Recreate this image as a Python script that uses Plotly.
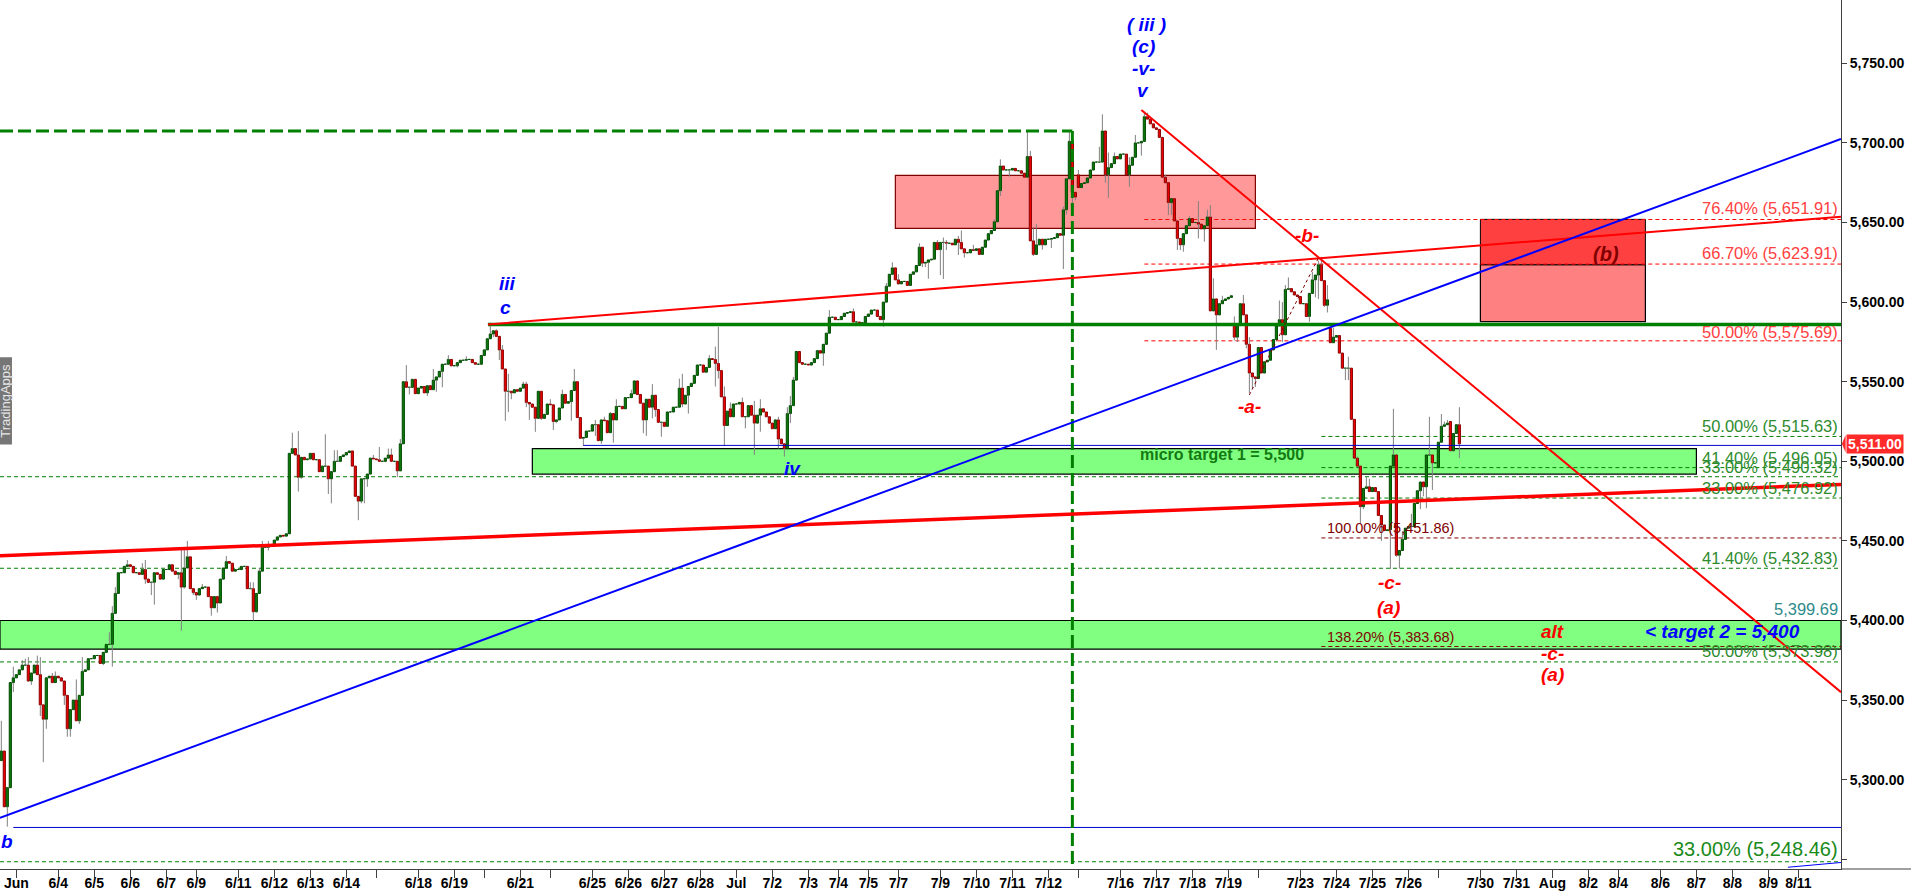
import plotly.graph_objects as go

# two-hour bars, opens follow the previous close unless listed in gap_opens
closes = [
    5318, 5283, 5295, 5361, 5364, 5366, 5369, 5372, 5372, 5362, 5367, 5372, 5366, 5347, 5338, 5364,
    5365, 5361, 5365, 5364, 5362, 5353, 5332, 5344, 5350, 5337, 5353, 5368, 5369, 5376, 5376, 5378,
    5378, 5373, 5380, 5385, 5385, 5404.5, 5417, 5430, 5430, 5434, 5435, 5434, 5430, 5430, 5429, 5432,
    5426, 5424, 5424, 5430, 5429, 5426, 5432, 5432, 5435, 5431, 5429, 5430, 5421, 5433, 5440, 5420,
    5417.5, 5416, 5420, 5421, 5421, 5415, 5408, 5415, 5411, 5426, 5433, 5437, 5436, 5431, 5432, 5432,
    5434, 5434, 5420, 5420, 5405.5, 5417, 5431, 5446, 5446, 5446.5, 5447, 5450.5, 5452.5, 5453.5, 5453, 5454.5,
    5505, 5508, 5504, 5490, 5502.5, 5501, 5501.5, 5505, 5501, 5501, 5493.5, 5497, 5497, 5489, 5493.5, 5500,
    5500, 5503, 5504, 5505.5, 5506.5, 5497, 5478, 5475, 5489, 5489, 5492, 5502, 5501.5, 5501, 5500, 5500,
    5502, 5504, 5500, 5500, 5494, 5511, 5550, 5546.5, 5546.5, 5551.5, 5542.5, 5546, 5547, 5543, 5547.5, 5545,
    5551, 5553, 5556.5, 5561, 5561, 5564, 5560, 5560, 5562, 5563.5, 5563.5, 5564, 5564, 5562, 5561, 5561,
    5566.5, 5570, 5577, 5580, 5582, 5578.5, 5570, 5558, 5544, 5544, 5543, 5545, 5544, 5546, 5548.5, 5537,
    5536, 5534, 5527, 5544, 5527, 5529.5, 5536, 5535.5, 5525, 5526, 5533.5, 5542, 5536.5, 5537.5, 5544.5, 5550,
    5527.5, 5514.5, 5515, 5519, 5519, 5523, 5523, 5513, 5526, 5525.5, 5518, 5530, 5526, 5534.5, 5534.5, 5533,
    5540, 5540, 5542.5, 5550.5, 5542, 5536.5, 5526, 5539, 5534, 5541.5, 5532.5, 5524.5, 5524.5, 5522, 5531, 5531,
    5534, 5534, 5546, 5536, 5541.5, 5547, 5549, 5554, 5560.5, 5560.5, 5556, 5559, 5564.5, 5564, 5561.5, 5557,
    5540.5, 5522.5, 5531.5, 5528, 5536, 5536, 5537, 5528, 5528, 5535, 5529, 5524, 5529, 5533, 5531, 5528,
    5524, 5520.5, 5526, 5514, 5511, 5508, 5530, 5535, 5551, 5569, 5562, 5561, 5561, 5560.5, 5562, 5564.5,
    5569.5, 5568, 5573.5, 5580.5, 5590.5, 5590.5, 5589, 5589, 5591, 5593, 5593.5, 5594, 5587.5, 5587.5, 5587, 5587,
    5591, 5592.5, 5595, 5595, 5591, 5589, 5600, 5610, 5617.5, 5621.5, 5614, 5611.5, 5613, 5613, 5610.5, 5617.5,
    5619, 5623, 5634.5, 5624.5, 5625, 5626.5, 5627, 5637.5, 5633, 5637.5, 5637.5, 5637, 5637, 5636, 5639.5, 5637.5,
    5633.5, 5631, 5631, 5633, 5632.5, 5633.5, 5630, 5634.5, 5639, 5643, 5645, 5650.5, 5670, 5685.5, 5683, 5683,
    5683, 5684, 5682.5, 5682.5, 5681, 5678.5, 5691.5, 5638.5, 5630, 5636, 5639.5, 5636, 5639.5, 5639.5, 5640, 5640.5,
    5643, 5642, 5658, 5677.5, 5701, 5669, 5666, 5672, 5674.5, 5675, 5678, 5683, 5688, 5688, 5688, 5707.5,
    5680, 5684.5, 5687, 5691.5, 5690, 5693, 5693, 5680, 5686, 5691, 5700, 5700, 5701, 5716.5, 5715, 5712,
    5709.5, 5708.5, 5703.5, 5678.5, 5675, 5662.5, 5665, 5651, 5640, 5636, 5643, 5648, 5652.5, 5650, 5650, 5649,
    5646, 5648, 5653.5, 5594.5, 5602, 5592, 5599, 5601, 5602, 5603, 5604, 5578, 5585.6, 5599, 5592, 5573.5,
    5555.5, 5553, 5552, 5571.5, 5555.5, 5562.5, 5563.5, 5570, 5576.5, 5585, 5589, 5579.5, 5608, 5608.5, 5606.5, 5604.5,
    5603.5, 5599, 5599, 5591, 5605.5, 5614, 5617, 5623.5, 5613.5, 5598, 5601.5, 5574.5, 5578, 5579, 5568, 5558.5,
    5558.5, 5558.5, 5526.4, 5502, 5497, 5471.5, 5483, 5484, 5481, 5483.5, 5481, 5466, 5460, 5456.5, 5457, 5497,
    5504, 5441, 5444, 5451, 5458, 5459, 5459, 5473.5, 5481.5, 5487, 5484, 5504, 5504, 5499, 5499, 5512,
    5522, 5523, 5524, 5506.7, 5517.5, 5523, 5511,
]
first_open = 5312
gap_opens = {359: 5680, 411: 5585.6, 443: 5583.5, 479: 5496, 483: 5525, 243: 5533}

high_wicks = {
    0: 5337, 4: 5371, 7: 5375, 8: 5376, 9: 5377, 12: 5378, 13: 5377, 17: 5367, 18: 5368, 25: 5363, 27: 5377,
    36: 5392.6, 37: 5409, 38: 5421, 42: 5438, 47: 5436, 48: 5438, 60: 5445, 61: 5445, 62: 5450, 67: 5423, 75: 5440.5,
    83: 5424, 84: 5424, 86: 5433, 87: 5450, 89: 5450, 97: 5518, 99: 5519, 108: 5517, 111: 5507, 112: 5507, 124: 5504,
    126: 5509, 129: 5508, 130: 5508, 133: 5514, 135: 5560.5, 144: 5558, 149: 5566.7, 155: 5566, 163: 5587, 165: 5583,
    167: 5573, 169: 5555, 174: 5550, 175: 5550, 180: 5544, 183: 5539, 187: 5545, 190: 5544.5, 191: 5558, 198: 5526,
    201: 5528, 203: 5531, 205: 5539, 210: 5545, 214: 5536, 217: 5548.5, 226: 5552, 227: 5555, 236: 5566.7, 238: 5572,
    239: 5584.5, 241: 5547, 243: 5537, 247: 5540, 251: 5538, 253: 5539, 256: 5528, 259: 5528, 262: 5534, 263: 5541,
    264: 5553, 276: 5595, 284: 5596, 295: 5612, 297: 5625, 299: 5617.6, 306: 5637, 312: 5639, 314: 5640.6, 315: 5639,
    319: 5641.6, 320: 5645, 324: 5636, 331: 5652, 333: 5689.7, 342: 5707, 343: 5695, 344: 5647, 345: 5649, 354: 5660,
    355: 5678, 356: 5708, 357: 5707, 359: 5683, 366: 5697.6, 367: 5718, 369: 5694, 371: 5694, 376: 5691, 378: 5705,
    379: 5691, 381: 5719.6, 382: 5719, 388: 5680, 396: 5654, 399: 5663.5, 402: 5658, 403: 5661, 404: 5615, 407: 5604,
    411: 5591, 414: 5604.5, 416: 5578, 426: 5601, 427: 5600, 428: 5610.7, 429: 5615.5, 437: 5619, 439: 5626, 440: 5628.5,
    442: 5610.7, 444: 5584, 449: 5565.7, 452: 5503, 455: 5490, 456: 5489, 464: 5533, 467: 5456, 470: 5467, 473: 5487,
    476: 5528, 480: 5529.7, 481: 5525, 482: 5526, 486: 5534,
}
low_wicks = {
    2: 5270.5, 4: 5355, 9: 5361.6, 10: 5359.5, 13: 5340, 14: 5311, 15: 5332, 21: 5347, 22: 5327, 23: 5327, 26: 5335,
    34: 5372, 37: 5371, 39: 5426.5, 48: 5423, 50: 5416, 51: 5410, 59: 5426, 60: 5393.6, 61: 5420, 64: 5416, 65: 5413,
    70: 5403, 71: 5408, 72: 5405, 84: 5400, 85: 5405, 89: 5444, 99: 5481, 100: 5489, 109: 5479.5, 110: 5473.6, 119: 5463,
    120: 5473.6, 121: 5473.6, 122: 5484, 132: 5490, 136: 5542, 142: 5541, 145: 5543.7, 147: 5546.5, 152: 5559,
    164: 5578, 166: 5563.6, 168: 5525.5, 169: 5531, 170: 5539, 175: 5534, 176: 5526, 178: 5518.5, 180: 5526, 184: 5519.7,
    185: 5524, 190: 5525.5, 194: 5509.6, 198: 5516, 200: 5511, 204: 5511.7, 214: 5517.6, 215: 5516, 217: 5527, 218: 5528,
    220: 5515.5, 227: 5534, 229: 5530, 238: 5547, 239: 5552, 241: 5510, 244: 5528, 248: 5520.7, 251: 5504, 253: 5518.6,
    259: 5508, 261: 5503, 263: 5524, 274: 5560, 288: 5585, 294: 5584.5, 299: 5611, 307: 5622, 308: 5622, 309: 5614.7,
    313: 5617, 314: 5614.5, 315: 5632.7, 319: 5629.6, 321: 5628, 333: 5666.7, 336: 5678.8, 344: 5629, 347: 5633, 350: 5634,
    354: 5620.8, 355: 5655, 357: 5659.5, 358: 5664, 368: 5675, 369: 5665.6, 376: 5672.5, 380: 5692, 389: 5654.7, 390: 5654.7,
    392: 5632.7, 393: 5632.7, 394: 5631.7, 399: 5640, 401: 5638, 405: 5570, 411: 5576, 412: 5575, 415: 5571, 416: 5542.7,
    417: 5545.8, 418: 5546.7, 419: 5559, 421: 5555, 427: 5575, 436: 5587.7, 438: 5603, 439: 5602, 441: 5597, 442: 5593.5,
    448: 5551, 449: 5551, 451: 5523, 453: 5461, 454: 5470, 460: 5450, 461: 5460, 463: 5432.4, 465: 5440, 466: 5432.6,
    473: 5470, 474: 5478, 475: 5470.5, 477: 5482, 484: 5506, 486: 5502,
}

tick_vals = [5, 19, 31, 43, 55, 65, 79, 91, 103, 115, 125, 139, 151, 161, 173, 183, 197, 209, 221, 233, 245, 257, 269,
             279, 289, 299, 313, 325, 337, 349, 359, 373, 385, 397, 409, 419, 433, 445, 457, 469, 479, 493, 505, 517,
             529, 539, 553, 565, 577, 589, 599]
tick_text = ["Jun", "6/4", "6/5", "6/6", "6/7", "6/9", "6/11", "6/12", "6/13", "6/14", "", "6/18", "6/19", "", "6/21", "",
             "6/25", "6/26", "6/27", "6/28", "Jul", "7/2", "7/3", "7/4", "7/5", "7/7", "7/9", "7/10", "7/11", "7/12", "",
             "7/16", "7/17", "7/18", "7/19", "", "7/23", "7/24", "7/25", "7/26", "", "7/30", "7/31", "Aug", "8/2", "8/4",
             "8/6", "8/7", "8/8", "8/9", "8/11"]
price_vals = [5250, 5300, 5350, 5400, 5450, 5500, 5550, 5600, 5650, 5700, 5750]

x_range = [-0.44, 613.2]
y_range = [5243.9, 5789.8]

bars = list(range(len(closes)))
opens = [first_open] + closes[:-1]
for i, v in gap_opens.items():
    opens[i] = v
tops = [max(o, c) for o, c in zip(opens, closes)]
bottoms = [min(o, c) for o, c in zip(opens, closes)]
fills = ["#0b7a0b" if c >= o else "#f00000" for o, c in zip(opens, closes)]
edges = ["#004a00" if c >= o else "#8b0000" for o, c in zip(opens, closes)]

# wicks stop at the body because scatter traces draw on top of bars
wick_x, wick_y = [], []
for i in bars:
    if high_wicks.get(i, 0) > tops[i]:
        wick_x += [i, i, None]
        wick_y += [high_wicks[i], tops[i], None]
    if low_wicks.get(i, 9999) < bottoms[i]:
        wick_x += [i, i, None]
        wick_y += [bottoms[i], low_wicks[i], None]

fig = go.Figure()
fig.add_trace(go.Bar(
    x=bars, y=[max(t - b, 0.05) for t, b in zip(tops, bottoms)], base=bottoms, width=0.72,
    marker=dict(color=fills, line=dict(color=edges, width=1)),
    showlegend=False, hoverinfo="skip",
))
fig.add_trace(go.Scatter(x=wick_x, y=wick_y, mode="lines", line=dict(color="#808080", width=1),
                         showlegend=False, hoverinfo="skip"))

shapes = []


def rect(x0, x1, y0, y1, fill, border, width=1.2):
    shapes.append(dict(type="rect", x0=x0, x1=x1, y0=y0, y1=y1, fillcolor=fill, layer="below",
                       line=dict(color=border, width=width)))


def seg(x0, y0, x1, y1, color, width=1, dash="solid", layer="above"):
    shapes.append(dict(type="line", x0=x0, y0=y0, x1=x1, y1=y1, layer=layer,
                       line=dict(color=color, width=width, dash=dash)))


# zones
rect(x_range[0], x_range[1], 5382, 5400, "#80ff80", "#000000")
rect(177, 565, 5492, 5508, "#80ff80", "#000000")
rect(298, 418, 5646.3, 5679.6, "#ff9999", "#800000")
rect(493, 548, 5587.7, 5623.5, "#ff8080", "#000000")
rect(493, 548, 5623.5, 5652, "#ff4040", "#000000", 1)

# fib levels
for lvl in [5490.32, 5432.83, 5373.98, 5248.46]:
    seg(x_range[0], lvl, x_range[1], lvl, "#008000", 1, "4px,3px", "below")
for lvl in [5515.63, 5496.05, 5476.92]:
    seg(440, lvl, x_range[1], lvl, "#008000", 1, "4px,3px", "below")
for lvl in [5651.91, 5623.91, 5575.69]:
    seg(381, lvl, x_range[1], lvl, "#ff0000", 1, "4px,3px", "below")
for lvl in [5451.86, 5383.68]:
    seg(440, lvl, x_range[1], lvl, "#800000", 1, "4px,3px", "below")

# trend lines and marks
seg(4, 5270, x_range[1], 5270, "#0000cc", 1)
seg(194, 5510, x_range[1], 5510, "#0000cc", 1)
seg(x_range[0], 5707.5, 357, 5707.5, "#008000", 3, "13px,5px")
seg(357, 5707.5, 357, y_range[0], "#008000", 3, "13px,5px")
seg(162.2, 5586, x_range[1], 5586, "#008000", 3.5)
seg(162.2, 5586, x_range[1], 5653.6, "#ff0000", 2)
seg(x_range[0], 5440.7, x_range[1], 5485.5, "#ff0000", 3.5)
seg(380, 5720.7, x_range[1], 5355, "#ff0000", 2)
seg(x_range[0], 5276, x_range[1], 5702.5, "#0000ff", 2)
seg(595.5, 5245, x_range[1], 5248, "#0000ff", 1)
seg(416, 5541.7, 439, 5627.7, "#800000", 1, "dot")

# axis furniture outside the plot
shapes.append(dict(type="line", xref="paper", yref="paper", x0=1, x1=1.039, y0=0, y1=0,
                   line=dict(color="#404040", width=1)))
shapes.append(dict(type="path", xref="paper", yref="y", fillcolor="#ff2a2a", line=dict(width=0),
                   path="M 1.0005 5511 L 1.0025 5516.5 L 1.0025 5505.5 Z"))
shapes.append(dict(type="rect", xref="paper", yref="paper", x0=0, x1=0.0065, y0=0.4885, y1=0.589,
                   fillcolor="#767676", line=dict(width=0), layer="above"))

BLUE_LABEL = dict(family="Liberation Sans", size=19, color="#0000ff")
RED_LABEL = dict(family="Liberation Sans", size=19, color="#ff0000")
wave_labels = [
    ("iii", 168.8, 5611.4, BLUE_LABEL), ("c", 167.9, 5596.9, BLUE_LABEL), ("iv", 263.8, 5495.8, BLUE_LABEL),
    ("b", 2, 5260.9, BLUE_LABEL), ("( iii )", 381.6, 5774.1, BLUE_LABEL), ("(c)", 380.6, 5760.4, BLUE_LABEL),
    ("-v-", 380.6, 5747, BLUE_LABEL), ("v", 380.5, 5733.2, BLUE_LABEL),
    ("-b-", 435.1, 5642.1, RED_LABEL), ("-a-", 415.9, 5534.3, RED_LABEL), ("-c-", 462.6, 5423.6, RED_LABEL),
    ("(a)", 462.4, 5408, RED_LABEL), ("alt", 517, 5393, RED_LABEL), ("-c-", 517, 5379, RED_LABEL),
    ("(a)", 517, 5365.8, RED_LABEL),
    ("< target 2 = 5,400", 573.8, 5393, dict(family="Liberation Sans", size=19, color="#0000ff")),
    ("(b)", 534.8, 5630.3, dict(family="Liberation Sans", size=20, color="#800000")),
    ("micro target 1 = 5,500", 406.9, 5504, dict(family="Liberation Sans", size=16, color="#127a12")),
]
fib_labels = [
    ("76.40% (5,651.91)", 5659, "#ff4040", 16.5), ("66.70% (5,623.91)", 5630.9, "#ff4040", 16.5),
    ("50.00% (5,575.69)", 5581.4, "#ff4040", 16.5), ("50.00% (5,515.63)", 5522.4, "#2e8b2e", 16.5),
    ("41.40% (5,496.05)", 5502, "#2e8b2e", 16.5), ("33.00% (5,490.32)", 5496.6, "#2e8b2e", 16.5),
    ("33.00% (5,476.92)", 5483.4, "#2e8b2e", 16.5), ("41.40% (5,432.83)", 5439.4, "#2e8b2e", 16.5),
    ("50.00% (5,373.98)", 5380.8, "#2e8b2e", 16.5), ("33.00% (5,248.46)", 5256.5, "#1a8a1a", 20),
    ("5,399.69", 5407, "#2e8b8b", 16.5),
]

annotations = []
for text, ax, ay, font in wave_labels:
    annotations.append(dict(x=ax, y=ay, text="<b><i>" + text.replace("<", "&lt;") + "</i></b>" if "micro" not in text
                            else "<b>" + text + "</b>", showarrow=False, font=font, xanchor="center", yanchor="middle"))
for text, ay, color, size in fib_labels:
    annotations.append(dict(x=612.8, y=ay, text=text, showarrow=False, xanchor="right", yanchor="middle",
                            font=dict(family="Liberation Sans", size=size, color=color)))
for text, ay in [("100.00% (5,451.86)", 5458.3), ("138.20% (5,383.68)", 5389.8)]:
    annotations.append(dict(x=463.1, y=ay, text=text, showarrow=False, xanchor="center", yanchor="middle",
                            font=dict(family="Liberation Sans", size=14.5, color="#800000")))
annotations.append(dict(xref="paper", x=1.0025, y=5511, text="<b>5,511.00</b>", showarrow=False, xanchor="left",
                        yanchor="middle", bgcolor="#ff2a2a", borderpad=1,
                        font=dict(family="Liberation Sans", size=14, color="#ffffff")))
annotations.append(dict(xref="paper", yref="paper", x=0.0033, y=0.539, text="TradingApps", textangle=-90,
                        showarrow=False, xanchor="center", yanchor="middle",
                        font=dict(family="Liberation Sans", size=13, color="#e8e8e8")))

fig.update_layout(
    width=1911, height=894,
    margin=dict(l=0, r=70, t=0, b=25, pad=0),
    paper_bgcolor="#ffffff", plot_bgcolor="#ffffff",
    showlegend=False, hovermode=False, barmode="overlay",
    shapes=shapes, annotations=annotations,
    font=dict(family="Liberation Sans", color="#000000"),
    xaxis=dict(range=x_range, type="linear", showgrid=False, zeroline=False,
               tickmode="array", tickvals=tick_vals, ticktext=tick_text, ticks="outside", ticklen=8, tickwidth=1,
               tickcolor="#404040", showline=True, linecolor="#404040", linewidth=1, ticklabelstandoff=-7,
               tickfont=dict(family="Liberation Sans", size=14, color="#000000", weight="bold")),
    yaxis=dict(range=y_range, side="right", showgrid=False, zeroline=False, tickmode="array", tickvals=price_vals,
               ticktext=["" if v == 5250 else f"{v:,.2f}" for v in price_vals], ticks="outside", ticklen=5, tickwidth=1,
               tickcolor="#404040", showline=True, linecolor="#404040", linewidth=1,
               tickfont=dict(family="Liberation Sans", size=14, color="#000000", weight="bold")),
)

# page margin off so the plot sits at the window corner
fig.write_html("out.html", config=dict(displayModeBar=False),
               post_script="document.body.style.margin='0';document.body.style.overflow='hidden';")
